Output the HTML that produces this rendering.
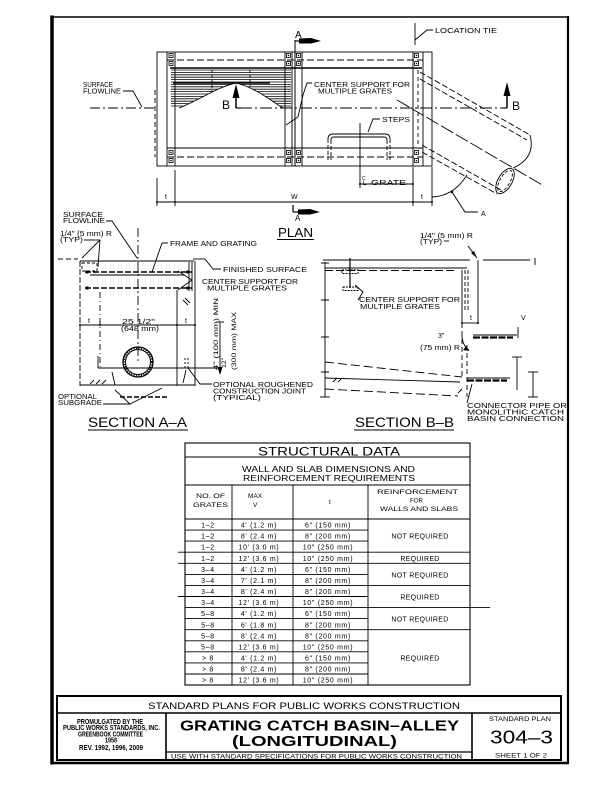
<!DOCTYPE html>
<html><head><meta charset="utf-8"><title>Grating Catch Basin - Alley (Longitudinal)</title>
<style>
html,body{margin:0;padding:0;background:#fff;width:612px;height:792px;overflow:hidden}
svg{display:block}
text{font-family:"Liberation Sans",Arial,sans-serif;fill:#000;stroke:none;font-size:7px}
.b{font-weight:bold}
</style></head><body>
<svg width="612" height="792" viewBox="0 0 612 792" xmlns="http://www.w3.org/2000/svg">
<defs>
<clipPath id="hc"><path d="M171,69 H291 V108 H283 C270,100 256,88 236,83 C217,87 200,100 179,108 H171 Z"/></clipPath>
</defs>
<rect width="612" height="792" fill="#fff"/>

<g fill="none" stroke="#000" stroke-width="0.9">
<!-- ===== FRAME ===== -->
<line x1="52" y1="17" x2="568" y2="17" stroke-width="1.5"/>
<line x1="52" y1="15.5" x2="52" y2="764.5" stroke-width="3.5"/>
<line x1="51" y1="763" x2="569" y2="763" stroke-width="2.5"/>
<line x1="568" y1="16" x2="568" y2="764" stroke-width="2.2"/>

<!-- ===== PLAN ===== -->
<rect x="157" y="52" width="275" height="114"/>
<line x1="167" y1="52" x2="167" y2="166"/>
<line x1="175" y1="52" x2="175" y2="166"/>
<line x1="285" y1="52" x2="285" y2="166"/>
<line x1="292" y1="52" x2="292" y2="166"/>
<line x1="302" y1="52" x2="302" y2="166"/>
<line x1="413" y1="52" x2="413" y2="166"/>
<line x1="423" y1="52" x2="423" y2="166"/>
<line x1="418" y1="70" x2="418" y2="146" stroke-dasharray="4 3"/>
<line x1="295" y1="40" x2="295" y2="166" stroke-width="1"/>
<line x1="167" y1="60" x2="423" y2="60" stroke-dasharray="7 3"/>
<line x1="167" y1="157" x2="423" y2="157" stroke-dasharray="7 3"/>
<line x1="170" y1="68" x2="422" y2="68" stroke-width="1.4"/>
<line x1="167" y1="148" x2="423" y2="148"/>
<g clip-path="url(#hc)" stroke-width="0.8">
<path d="M171,70H291M171,72.4H291M171,74.8H291M171,77.2H291M171,79.6H291M171,82H291M171,84.4H291M171,86.8H291M171,89.2H291M171,91.6H291M171,94H291M171,96.4H291M171,98.8H291M171,101.2H291M171,103.6H291M171,106H291"/>
</g>
<path d="M179,108 C200,100 217,87 236,83 C256,88 270,100 283,108"/>
<line x1="173" y1="83" x2="270" y2="83" stroke-width="1.6"/>
<line x1="212" y1="70" x2="212" y2="92" stroke-dasharray="3 2"/>
<line x1="250" y1="70" x2="250" y2="86" stroke-dasharray="3 2"/>
<g stroke-width="0.8">
<rect x="169" y="53.5" width="4" height="4"/><rect x="169" y="61.5" width="4" height="4"/>
<rect x="169" y="150.5" width="4" height="4"/><rect x="169" y="158.5" width="4" height="4"/>
<rect x="286.5" y="53.5" width="4" height="4"/><rect x="286.5" y="61.5" width="4" height="4"/>
<rect x="286.5" y="150.5" width="4" height="4"/><rect x="286.5" y="158.5" width="4" height="4"/>
<rect x="296.5" y="53.5" width="4" height="4"/><rect x="296.5" y="61.5" width="4" height="4"/>
<rect x="296.5" y="150.5" width="4" height="4"/><rect x="296.5" y="158.5" width="4" height="4"/>
<rect x="414.5" y="53.5" width="4" height="4"/><rect x="414.5" y="61.5" width="4" height="4"/>
<rect x="414.5" y="150.5" width="4" height="4"/><rect x="414.5" y="158.5" width="4" height="4"/>
</g>
<line x1="90" y1="108" x2="157" y2="108" stroke-dasharray="10 3 2 3"/>
<line x1="155" y1="90" x2="155" y2="157" stroke-dasharray="5 3"/>
<line x1="240" y1="108" x2="507" y2="108" stroke-dasharray="12 3 2 3"/>
<line x1="236" y1="92" x2="236" y2="108" stroke-width="1.5"/>
<line x1="236" y1="108" x2="241" y2="108" stroke-width="1.2"/>
<line x1="507" y1="92" x2="507" y2="108" stroke-width="1.5"/>
<line x1="503" y1="108" x2="507" y2="108" stroke-width="1.2"/>
<polyline points="123,91 133,91 142,107"/>
<polyline points="312,83 307,83 303,95 298,117"/>
<line x1="298" y1="117" x2="286" y2="125"/>
<line x1="415" y1="23" x2="415" y2="45"/>
<polyline points="415,40 427,30 433,30"/>
<path d="M333,134 H385 Q390,134 390,139"/>
<path d="M328,139 Q328,134 333,134"/>
<path d="M334,137 H384 Q387,137 387,140 M331,140 Q331,137 334,137"/>
<line x1="328" y1="139" x2="328" y2="160" stroke-dasharray="4 2"/>
<line x1="331" y1="140" x2="331" y2="160" stroke-dasharray="4 2"/>
<line x1="390" y1="139" x2="390" y2="160" stroke-dasharray="4 2"/>
<line x1="387" y1="140" x2="387" y2="160" stroke-dasharray="4 2"/>
<polyline points="380,119 373,119 368,132"/>
<line x1="360" y1="123" x2="360" y2="188"/>
<line x1="360" y1="184" x2="413" y2="184"/>
<line x1="420" y1="72" x2="530" y2="135" stroke-dasharray="6 2.5"/>
<line x1="420" y1="79" x2="527" y2="140" stroke-dasharray="6 2.5"/>
<line x1="422" y1="145" x2="501" y2="190" stroke-dasharray="6 2.5"/>
<line x1="422" y1="152" x2="497" y2="194" stroke-dasharray="6 2.5"/>
<path d="M530,135 Q536,158 513,168"/>
<ellipse cx="505" cy="181" rx="7" ry="14" transform="rotate(30 505 181)"/>
<ellipse cx="505" cy="181" rx="5" ry="12" transform="rotate(30 505 181)" stroke-dasharray="3 2"/>
<line x1="397" y1="100" x2="544" y2="186" stroke-dasharray="14 3"/>
<line x1="157" y1="178" x2="157" y2="206"/>
<line x1="175" y1="170" x2="175" y2="206"/>
<line x1="413" y1="167" x2="413" y2="206"/>
<line x1="432" y1="167" x2="432" y2="206"/>
<line x1="157" y1="202" x2="432" y2="202"/>
<path d="M432,197 Q454,196 467,175"/>
<polyline points="452,192 465,212 478,212"/>
<line x1="295" y1="41" x2="300" y2="41" stroke-width="1.2"/>
<line x1="293" y1="205" x2="293" y2="212" stroke-width="1.2"/>
<line x1="293" y1="212" x2="300" y2="212" stroke-width="1.2"/>
<line x1="277" y1="239.5" x2="314" y2="239.5"/>

<!-- ===== SECTION A-A ===== -->
<line x1="138" y1="228" x2="138" y2="362" stroke-dasharray="9 3 2 3"/>
<line x1="58" y1="259" x2="78" y2="259" stroke-dasharray="5 3"/>
<line x1="80" y1="261" x2="194" y2="261"/>
<line x1="193" y1="259" x2="205" y2="259"/>
<line x1="80" y1="261" x2="80" y2="386" stroke-dasharray="6 2"/>
<line x1="195" y1="261" x2="195" y2="386"/>
<line x1="177" y1="290" x2="177" y2="386"/>
<line x1="100" y1="292" x2="100" y2="368" stroke-dasharray="6 3 1 3"/>
<rect x="82" y="263" width="15" height="8" stroke-dasharray="3 2"/>
<line x1="189" y1="262" x2="189" y2="291"/>
<line x1="192" y1="262" x2="192" y2="291"/>
<line x1="85" y1="272" x2="192" y2="272" stroke-width="1.6" stroke-dasharray="6 2"/>
<line x1="85" y1="288" x2="192" y2="288" stroke-width="1.6" stroke-dasharray="6 2"/>
<line x1="90" y1="275" x2="185" y2="275"/>
<polyline points="178,271 192,280 178,290"/>
<line x1="80" y1="325" x2="195" y2="325"/>
<line x1="98" y1="356" x2="98" y2="368"/>
<line x1="98" y1="368" x2="220" y2="368"/>
<line x1="185" y1="358" x2="185" y2="368" stroke-dasharray="2 2"/>
<line x1="188" y1="358" x2="188" y2="368" stroke-dasharray="2 2"/>
<circle cx="138" cy="362" r="15" stroke-width="1.3"/>
<circle cx="138" cy="362" r="12.5" stroke-width="1"/>
<circle cx="138" cy="362" r="13.7" stroke-width="1.5" stroke-dasharray="1 1.5"/>
<line x1="80" y1="385" x2="195" y2="385"/>
<line x1="120" y1="397" x2="167" y2="397" stroke-width="1.4" stroke-dasharray="5 2"/>
<line x1="112" y1="372" x2="115" y2="385"/>
<line x1="186" y1="370" x2="183" y2="383"/>
<line x1="220" y1="322" x2="220" y2="372"/>
<line x1="216" y1="322" x2="224" y2="322"/>
<path d="M183,300 L188,305 M185,298 L190,303"/>
<path d="M90,384 L94,380 M96,384 L100,380 M102,384 L106,380"/>
<polyline points="106,221 112,221 137,258"/>
<line x1="84" y1="240" x2="100" y2="240"/>
<line x1="100" y1="240" x2="82" y2="258"/>
<line x1="100" y1="240" x2="98" y2="267"/>
<polyline points="168,243 162,243 152,272"/>
<polyline points="205,259 213,269 221,269"/>
<polyline points="212,384 200,384 188,368"/>
<polyline points="103,404 130,404 115,390"/>
<line x1="130" y1="404" x2="162" y2="388"/>
<line x1="88" y1="430" x2="188" y2="430"/>

<!-- ===== SECTION B-B ===== -->
<line x1="323" y1="260" x2="470" y2="260"/>
<line x1="325" y1="268" x2="467" y2="268"/>
<line x1="325" y1="270.5" x2="455" y2="270.5" stroke-dasharray="8 3"/>
<line x1="483" y1="260" x2="530" y2="260"/>
<line x1="535" y1="258" x2="535" y2="265"/>
<line x1="325" y1="262" x2="325" y2="397"/>
<path d="M321,263H329 M321,300H329 M321,337H329 M321,372H329"/>
<line x1="350" y1="258" x2="350" y2="288" stroke-width="1.2"/>
<rect x="342" y="270" width="16" height="3.5" stroke-dasharray="2 1"/>
<rect x="343" y="287" width="15" height="3.5" stroke-dasharray="2 1"/>
<polyline points="358,300 363,292 355,285"/>
<line x1="462" y1="270" x2="462" y2="323"/>
<line x1="465" y1="270" x2="465" y2="312" stroke-dasharray="4 2"/>
<line x1="468" y1="270" x2="468" y2="312" stroke-dasharray="4 2"/>
<line x1="478" y1="260" x2="478" y2="323"/>
<line x1="462" y1="323" x2="478" y2="323"/>
<line x1="468" y1="246" x2="477" y2="258"/>
<line x1="444" y1="241" x2="449" y2="241"/>
<line x1="473" y1="335" x2="517" y2="335"/>
<line x1="473" y1="337.5" x2="513" y2="337.5" stroke-width="2.2" stroke-dasharray="7 1.5"/>
<line x1="518" y1="327" x2="518" y2="338"/>
<path d="M462,335 Q462,345 469,350"/>
<line x1="462" y1="323" x2="462" y2="378" stroke-dasharray="5 3"/>
<line x1="467" y1="345" x2="467" y2="397" stroke-dasharray="5 3"/>
<line x1="517" y1="357" x2="517" y2="390"/>
<line x1="512" y1="357" x2="522" y2="357"/>
<line x1="467" y1="378" x2="510" y2="378"/>
<line x1="467" y1="380.5" x2="507" y2="380.5" stroke-width="2.2" stroke-dasharray="7 1.5"/>
<line x1="533" y1="372" x2="533" y2="397"/>
<line x1="528" y1="372" x2="538" y2="372"/>
<line x1="528" y1="397" x2="538" y2="397"/>
<line x1="325" y1="362" x2="462" y2="377" stroke-dasharray="9 4"/>
<line x1="325" y1="378" x2="460" y2="382"/>
<line x1="325" y1="389" x2="458" y2="396" stroke-dasharray="9 4"/>
<line x1="320" y1="397" x2="330" y2="397"/>
<path d="M333,382 L337,378 M338,382 L342,378 M458,393 L462,389"/>
<line x1="467" y1="403" x2="472" y2="384"/>
<line x1="354" y1="430" x2="454" y2="430"/>

<!-- ===== TABLE ===== -->
<rect x="185" y="443" width="285" height="242" stroke-width="1.1"/>
<line x1="185" y1="457" x2="470" y2="457"/>
<line x1="185" y1="485" x2="470" y2="485"/>
<line x1="185" y1="519" x2="470" y2="519"/>
<line x1="232" y1="485" x2="232" y2="685"/>
<line x1="293" y1="485" x2="293" y2="685"/>
<line x1="368" y1="485" x2="368" y2="685"/>
<path d="M185,530.1H368 M185,541.1H368 M178,552.2H470 M178,563.3H470 M185,574.4H368 M185,585.4H470 M178,596.5H368 M185,607.6H490 M185,618.6H368 M185,629.7H470 M185,640.8H368 M185,651.8H368 M185,662.9H368 M185,674H368"/>

<!-- ===== TITLE BLOCK ===== -->
<rect x="57" y="696" width="504" height="64" stroke-width="2"/>
<line x1="57" y1="713" x2="561" y2="713" stroke-width="1.6"/>
<line x1="166" y1="713" x2="166" y2="760" stroke-width="1.6"/>
<line x1="472" y1="713" x2="472" y2="760" stroke-width="1.6"/>
<line x1="166" y1="752" x2="472" y2="752" stroke-width="1.2"/>
</g>

<g fill="#000" stroke="none">
<polygon points="299,38.5 311,38 321,41 311,43.5 299,43.5"/>
<polygon points="298,209.5 310,209 320,212 310,214.5 298,214.5"/>
<polygon points="232.5,98 236,84 239.5,98"/>
<polygon points="503.5,96 507,82 510.5,96"/>
<polygon points="477,258 471,253 474,251"/>
<polygon points="220,375 217.5,367 222.5,367"/>
<polygon points="469,351 463,350 466,346"/>
<circle cx="452" cy="192" r="1.3"/>
<circle cx="157" cy="202" r="1"/><circle cx="175" cy="202" r="1"/>
<circle cx="413" cy="202" r="1"/><circle cx="432" cy="202" r="1"/>
<circle cx="360" cy="184" r="1"/><circle cx="413" cy="184" r="1"/>
<circle cx="80" cy="325" r="1"/><circle cx="100" cy="325" r="1"/>
<circle cx="177" cy="325" r="1"/><circle cx="195" cy="325" r="1"/>
<circle cx="462" cy="323" r="1"/><circle cx="478" cy="323" r="1"/>
<rect x="85.5" y="270.5" width="3" height="3"/><rect x="85.5" y="286.5" width="3" height="3"/>
<rect x="186.5" y="270.5" width="3" height="3"/><rect x="186.5" y="286.5" width="3" height="3"/>
<circle cx="171" cy="55.5" r="0.8"/><circle cx="171" cy="63.5" r="0.8"/><circle cx="171" cy="152.5" r="0.8"/><circle cx="171" cy="160.5" r="0.8"/>
<circle cx="288.5" cy="55.5" r="0.8"/><circle cx="288.5" cy="63.5" r="0.8"/><circle cx="288.5" cy="152.5" r="0.8"/><circle cx="288.5" cy="160.5" r="0.8"/>
<circle cx="298.5" cy="55.5" r="0.8"/><circle cx="298.5" cy="63.5" r="0.8"/><circle cx="298.5" cy="152.5" r="0.8"/><circle cx="298.5" cy="160.5" r="0.8"/>
<circle cx="416.5" cy="55.5" r="0.8"/><circle cx="416.5" cy="63.5" r="0.8"/><circle cx="416.5" cy="152.5" r="0.8"/><circle cx="416.5" cy="160.5" r="0.8"/>
</g>

<!-- ===== TEXT: PLAN ===== -->
<text x="83" y="87" textLength="30" lengthAdjust="spacingAndGlyphs">SURFACE</text>
<text x="83" y="93.5" textLength="38" lengthAdjust="spacingAndGlyphs">FLOWLINE</text>
<text x="435" y="33" textLength="62" lengthAdjust="spacingAndGlyphs">LOCATION TIE</text>
<text x="314" y="87" textLength="96" lengthAdjust="spacingAndGlyphs">CENTER SUPPORT FOR</text>
<text x="318" y="93.5" textLength="74" lengthAdjust="spacingAndGlyphs">MULTIPLE GRATES</text>
<text x="382" y="122" textLength="28" lengthAdjust="spacingAndGlyphs">STEPS</text>
<text x="362" y="180" style="font-size:5px">C</text>
<text x="363" y="185" style="font-size:6px">L</text>
<text x="371" y="185" textLength="35" lengthAdjust="spacingAndGlyphs">GRATE</text>
<text x="165" y="199">t</text>
<text x="291" y="199">W</text>
<text x="421" y="199">t</text>
<text x="481" y="216">A</text>
<text x="222" y="109" style="font-size:12px">B</text>
<text x="512" y="110" style="font-size:12px">B</text>
<text x="295" y="38" style="font-size:10px">A</text>
<text x="295" y="221" style="font-size:8px">A</text>
<text x="278" y="237" textLength="35" lengthAdjust="spacingAndGlyphs" style="font-size:13px">PLAN</text>

<!-- ===== TEXT: SECTION A-A ===== -->
<text x="63" y="217" textLength="40" lengthAdjust="spacingAndGlyphs">SURFACE</text>
<text x="63" y="223" textLength="42" lengthAdjust="spacingAndGlyphs">FLOWLINE</text>
<text x="60" y="236" textLength="52" lengthAdjust="spacingAndGlyphs">1/4" (5 mm) R</text>
<text x="60" y="242" textLength="23" lengthAdjust="spacingAndGlyphs">(TYP)</text>
<text x="170" y="246" textLength="87" lengthAdjust="spacingAndGlyphs">FRAME AND GRATING</text>
<text x="223" y="272" textLength="84" lengthAdjust="spacingAndGlyphs">FINISHED SURFACE</text>
<text x="202" y="284" textLength="96" lengthAdjust="spacingAndGlyphs">CENTER SUPPORT FOR</text>
<text x="207" y="290.5" textLength="80" lengthAdjust="spacingAndGlyphs">MULTIPLE GRATES</text>
<text x="88" y="323">t</text>
<text x="122" y="324" textLength="33" lengthAdjust="spacingAndGlyphs">25 1/2"</text>
<text x="121" y="331" textLength="38" lengthAdjust="spacingAndGlyphs">(648 mm)</text>
<text x="185" y="323">t</text>
<text transform="translate(218,370) rotate(-90)" textLength="72" lengthAdjust="spacingAndGlyphs" style="font-size:6.5px">4" (100 mm) MIN</text>
<text transform="translate(226,368) rotate(-90)" textLength="10" lengthAdjust="spacingAndGlyphs" style="font-size:6.5px">12"</text>
<text transform="translate(236,370) rotate(-90)" textLength="58" lengthAdjust="spacingAndGlyphs" style="font-size:6.5px">(300 mm) MAX</text>
<text x="213" y="387" textLength="100" lengthAdjust="spacingAndGlyphs">OPTIONAL ROUGHENED</text>
<text x="213" y="393.5" textLength="93" lengthAdjust="spacingAndGlyphs">CONSTRUCTION JOINT</text>
<text x="213" y="400" textLength="48" lengthAdjust="spacingAndGlyphs">(TYPICAL)</text>
<text x="58" y="399" textLength="39" lengthAdjust="spacingAndGlyphs">OPTIONAL</text>
<text x="58" y="405" textLength="44" lengthAdjust="spacingAndGlyphs">SUBGRADE</text>
<text x="88" y="427" textLength="99" lengthAdjust="spacingAndGlyphs" style="font-size:14px">SECTION A–A</text>

<!-- ===== TEXT: SECTION B-B ===== -->
<text x="420" y="238" textLength="53" lengthAdjust="spacingAndGlyphs">1/4" (5 mm) R</text>
<text x="420" y="244" textLength="22" lengthAdjust="spacingAndGlyphs">(TYP)</text>
<text x="359" y="302" textLength="101" lengthAdjust="spacingAndGlyphs">CENTER SUPPORT FOR</text>
<text x="360" y="309" textLength="80" lengthAdjust="spacingAndGlyphs">MULTIPLE GRATES</text>
<text x="470" y="320">t</text>
<text x="438" y="338">3"</text>
<text x="420" y="350" textLength="40" lengthAdjust="spacingAndGlyphs">(75 mm) R</text>
<text x="521" y="320">V</text>
<text x="467" y="408" textLength="100" lengthAdjust="spacingAndGlyphs">CONNECTOR PIPE OR</text>
<text x="467" y="414.5" textLength="97" lengthAdjust="spacingAndGlyphs">MONOLITHIC CATCH</text>
<text x="467" y="421" textLength="97" lengthAdjust="spacingAndGlyphs">BASIN CONNECTION</text>
<text x="355" y="427" textLength="99" lengthAdjust="spacingAndGlyphs" style="font-size:14px">SECTION B–B</text>

<!-- ===== TEXT: TABLE ===== -->
<text x="258" y="455.5" textLength="142" lengthAdjust="spacingAndGlyphs" style="font-size:11.5px">STRUCTURAL DATA</text>
<text x="242" y="472" textLength="173" lengthAdjust="spacingAndGlyphs" style="font-size:8px">WALL AND SLAB DIMENSIONS AND</text>
<text x="243" y="481" textLength="172" lengthAdjust="spacingAndGlyphs" style="font-size:8px">REINFORCEMENT REQUIREMENTS</text>
<text x="196" y="498" textLength="29" lengthAdjust="spacingAndGlyphs" style="font-size:6.5px">NO. OF</text>
<text x="193" y="507" textLength="35" lengthAdjust="spacingAndGlyphs" style="font-size:6.5px">GRATES</text>
<text x="248" y="498" textLength="14" lengthAdjust="spacingAndGlyphs" style="font-size:6.5px">MAX</text>
<text x="253" y="507" style="font-size:6.5px">V</text>
<text x="329" y="504" style="font-size:6.5px">t</text>
<text x="377" y="494" textLength="81" lengthAdjust="spacingAndGlyphs" style="font-size:6.5px">REINFORCEMENT</text>
<text x="410" y="502.5" textLength="13" lengthAdjust="spacingAndGlyphs" style="font-size:6.5px">FOR</text>
<text x="380" y="511" textLength="78" lengthAdjust="spacingAndGlyphs" style="font-size:6.5px">WALLS AND SLABS</text>

<g style="font-size:8px;letter-spacing:0.7px" text-anchor="middle">
<text x="208" y="527.6">1–2</text><text x="259" y="527.6">4' (1.2 m)</text><text x="328" y="527.6">6" (150 mm)</text>
<text x="208" y="538.7">1–2</text><text x="259" y="538.7">8' (2.4 m)</text><text x="328" y="538.7">8" (200 mm)</text>
<text x="208" y="549.7">1–2</text><text x="259" y="549.7">10' (3.0 m)</text><text x="328" y="549.7">10" (250 mm)</text>
<text x="208" y="560.8">1–2</text><text x="259" y="560.8">12' (3.6 m)</text><text x="328" y="560.8">10" (250 mm)</text>
<text x="208" y="571.9">3–4</text><text x="259" y="571.9">4' (1.2 m)</text><text x="328" y="571.9">6" (150 mm)</text>
<text x="208" y="583">3–4</text><text x="259" y="583">7' (2.1 m)</text><text x="328" y="583">8" (200 mm)</text>
<text x="208" y="594">3–4</text><text x="259" y="594">8' (2.4 m)</text><text x="328" y="594">8" (200 mm)</text>
<text x="208" y="605.1">3–4</text><text x="259" y="605.1">12' (3.6 m)</text><text x="328" y="605.1">10" (250 mm)</text>
<text x="208" y="616.2">5–8</text><text x="259" y="616.2">4' (1.2 m)</text><text x="328" y="616.2">6" (150 mm)</text>
<text x="208" y="627.3">5–8</text><text x="259" y="627.3">6' (1.8 m)</text><text x="328" y="627.3">8" (200 mm)</text>
<text x="208" y="638.3">5–8</text><text x="259" y="638.3">8' (2.4 m)</text><text x="328" y="638.3">8" (200 mm)</text>
<text x="208" y="649.4">5–8</text><text x="259" y="649.4">12' (3.6 m)</text><text x="328" y="649.4">10" (250 mm)</text>
<text x="208" y="660.5">&gt; 8</text><text x="259" y="660.5">4' (1.2 m)</text><text x="328" y="660.5">6" (150 mm)</text>
<text x="208" y="671.5">&gt; 8</text><text x="259" y="671.5">8' (2.4 m)</text><text x="328" y="671.5">8" (200 mm)</text>
<text x="208" y="682.6">&gt; 8</text><text x="259" y="682.6">12' (3.6 m)</text><text x="328" y="682.6">10" (250 mm)</text>
</g>
<g style="font-size:8px;letter-spacing:0.3px" text-anchor="middle">
<text x="420" y="538.7">NOT REQUIRED</text>
<text x="420" y="560.8">REQUIRED</text>
<text x="420" y="577.5">NOT REQUIRED</text>
<text x="420" y="599.6">REQUIRED</text>
<text x="420" y="621.7">NOT REQUIRED</text>
<text x="420" y="660.4">REQUIRED</text>
</g>

<!-- ===== TEXT: TITLE BLOCK ===== -->
<text x="148" y="709" textLength="312" lengthAdjust="spacingAndGlyphs" style="font-size:9.5px">STANDARD PLANS FOR PUBLIC WORKS CONSTRUCTION</text>
<g class="b" style="font-size:4.8px">
<text x="77" y="724" textLength="66" lengthAdjust="spacingAndGlyphs">PROMULGATED BY THE</text>
<text x="63" y="730" textLength="97" lengthAdjust="spacingAndGlyphs">PUBLIC WORKS STANDARDS, INC.</text>
<text x="78" y="736.5" textLength="65" lengthAdjust="spacingAndGlyphs">GREENBOOK COMMITTEE</text>
<text x="105" y="742.5" textLength="12" lengthAdjust="spacingAndGlyphs">1958</text>
<text x="79" y="750" textLength="64" lengthAdjust="spacingAndGlyphs">REV. 1992, 1996, 2009</text>
</g>
<text x="180" y="730.5" textLength="279" lengthAdjust="spacingAndGlyphs" class="b" style="font-size:14.5px">GRATING CATCH BASIN–ALLEY</text>
<text x="232" y="746" textLength="165" lengthAdjust="spacingAndGlyphs" class="b" style="font-size:14.5px">(LONGITUDINAL)</text>
<text x="171" y="758.5" textLength="291" lengthAdjust="spacingAndGlyphs" style="font-size:6px">USE WITH STANDARD SPECIFICATIONS FOR PUBLIC WORKS CONSTRUCTION</text>
<text x="489" y="721" textLength="62" lengthAdjust="spacingAndGlyphs" style="font-size:6px">STANDARD PLAN</text>
<text x="490" y="743.5" textLength="63" lengthAdjust="spacingAndGlyphs" style="font-size:18.5px">304–3</text>
<text x="495" y="757.5" textLength="52" lengthAdjust="spacingAndGlyphs" style="font-size:6px">SHEET 1 OF 2</text>
</svg>
</body></html>
